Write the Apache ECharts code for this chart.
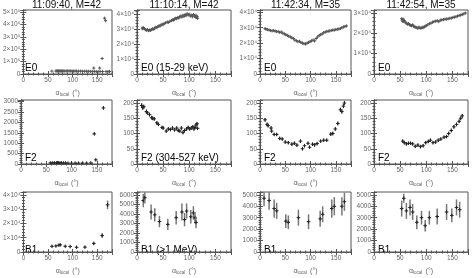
<!DOCTYPE html>
<html><head><meta charset="utf-8">
<script src="https://cdn.jsdelivr.net/npm/echarts@6/dist/echarts.min.js"></script>
<style>html,body{margin:0;padding:0;background:#fff}#c{width:474px;height:278px}</style>
</head><body><div id="c"></div>
<script>
// ---- text ----
const panelTitles = ['11:09:40, M=42', '11:10:14, M=42', '11:42:34, M=35', '11:42:54, M=35'];
const panelLabels = [
  ['E0', 'E0 (15-29 keV)', 'E0', 'E0'],
  ['F2', 'F2 (304-527 keV)', 'F2', 'F2'],
  ['B1', 'B1 (>1 MeV)', 'B1', 'B1']
];
const xName = '{a|α}{s|local} {a|(°)}';
// ---- axis scales ----
const xMin = 0, xMax = 180, xStep = 50;
const yMaxes = [[5.16e5, 4.25e4, 4.15e4, 3.15e4], [3080, 210, 210, 210], [4.2e4, 6300, 5250, 5250]];
const ySteps = [[1e5, 1e4, 1e4, 1e4], [500, 50, 50, 50], [1e4, 1000, 1000, 1000]];
const yExp = [[5, 4, 4, 4], [0, 0, 0, 0], [4, 0, 0, 0]];

// ---- data: E0 ----
const e0a1 = [58,66,68,70,71,73,75,77,79,81,84,87,90,93,96,99,102,105,108,112,116,120,124,128,132,136,140,143,144,148,152,155,156,160,161,165,167,168,172,175];
const e0v1 = [23000,24000,25000,24000,23000,25000,24000,24000,25000,24000,24000,24000,25000,24000,24000,24000,23000,24000,23000,23000,23000,22000,22000,22000,22000,21000,21000,48000,21000,20000,20000,48000,20000,125000,20000,450000,430000,20000,20000,20000];
const e0a2 = [10,11,12,14,16,18,20,22,24,26,28,30,32,34,36,38,40,42,44,46,48,50,52,55,58,60,63,66,68,70,72,74,76,78,80,82,84,86,88,90,92,94,96,98,100,102,104,106,108,110,112,113,114,115,116];
const e0v2 = [30500,30000,30800,30200,29500,29000,29500,28800,29200,29000,29500,30000,29700,30500,31000,30800,31500,32000,31800,32500,33000,32800,33500,34000,34500,34200,35000,35500,36000,35800,36500,37000,36800,37500,37200,38000,38500,37800,39000,38200,39500,38800,40000,39200,39700,38500,39000,38000,39500,38500,37800,39000,37500,38200,37000];
const e0a3 = [10,12,15,18,21,24,27,30,33,36,39,42,45,48,51,54,57,60,63,66,69,72,75,78,81,84,87,90,93,96,99,102,105,108,111,114,117,120,123,126,129,132,135,138,141,144,147,150,153,156,159,162,165,168,171];
const e0v3 = [29500,29000,28800,28500,28200,28000,28200,27800,27500,27500,27000,27200,26500,26000,25500,25000,24500,24000,23500,23000,22000,21500,21000,21200,20500,20000,19700,19500,20000,20500,21000,21500,22000,21500,23000,24000,25000,25500,26000,26800,27200,27500,27800,28000,28200,28500,28500,28800,29000,29200,29500,30000,30500,30800,31200];
const e0a4 = [53,54,55,56,57,58,60,62,64,66,68,70,72,74,76,78,80,82,84,86,88,90,92,94,96,98,100,103,106,109,112,115,118,121,124,127,130,133,136,139,142,145,148,151,154,157,160,163,166,169,172,175];
const e0v4 = [27200,26500,26000,27000,25800,26200,25500,25000,24500,24800,24200,24000,23800,24200,23500,23200,23000,22800,22500,23000,22700,22500,23000,22800,23200,23500,23800,24200,24800,25000,25500,25800,26000,26200,25800,26500,26600,26800,27000,27000,27200,27400,27500,27800,28000,28200,28500,28800,29000,29300,29600,30000];
// ---- data: F2 ----
const f2a1 = [58,62,66,70,72,74,77,80,84,88,93,100,107,114,122,130,138,145,148,163];
const f2v1 = [50,50,55,50,60,55,50,50,45,45,40,40,40,40,45,40,50,1450,200,2700];
const f2e1 = [15,15,15,15,15,15,15,15,15,15,15,15,15,15,15,15,15,60,30,80];
const f2a2 = [9,11,13,18,20,24,28,30,33,38,41,48,50,56,60,64,68,72,76,79,82,85,88,91,95,98,101,104,107,109,111,113,115,116];
const f2v2 = [192,185,188,172,168,162,152,150,148,135,130,120,118,108,115,113,118,112,118,110,108,118,103,110,115,120,115,118,122,115,120,128,132,117];
const f2e2 = [8,8,7,7,6,6,6,6,6,6,5,5,5,5,5,5,5,5,5,5,5,5,5,5,5,5,5,5,5,5,5,6,6,5];
const f2a3 = [10,14,16,22,23,28,33,39,44,50,56,63,68,73,80,84,88,95,98,104,108,113,120,126,132,140,144,149,154,159,162,165,167];
const f2v3 = [145,130,126,118,108,97,97,84,82,72,70,65,68,62,75,50,60,68,55,65,63,67,75,78,78,98,100,115,133,178,172,190,200];
const f2e3 = [6,6,6,6,5,5,5,5,5,5,5,5,5,5,5,5,5,5,5,5,5,5,5,5,5,6,6,6,6,7,7,7,7];
const f2a4 = [55,58,62,66,70,74,79,84,89,94,99,104,108,113,118,123,128,134,139,143,148,153,158,163,166,169];
const f2v4 = [75,70,66,68,68,66,58,62,57,60,70,74,78,70,72,78,82,88,90,100,110,122,130,140,150,158];
const f2e4 = [5,5,5,5,5,5,5,5,5,5,5,5,5,5,5,5,5,5,5,6,6,6,6,6,6,6];
// ---- data: B1 ----
const b1a1 = [58,66,72,75,85,95,108,125,143,160,171];
const b1v1 = [4000,4200,4800,5000,4000,3800,3300,3400,6000,11500,33000];
const b1e1 = [600,600,700,700,600,600,600,600,900,1600,3000];
const b1a2 = [12,15,27,34,43,59,75,86,91,95,103,108,111,113];
const b1v2 = [5400,5700,4200,3900,3200,2900,3600,4200,3400,4300,3700,4100,3600,3100];
const b1e2 = [700,600,800,700,600,600,700,900,700,800,700,700,600,600];
const b1a3 = [8,18,28,33,51,56,76,96,119,124,142,147,162,167];
const b1v3 = [4700,4500,3800,3600,2700,2600,3000,2650,2900,3300,3800,4000,4000,4400];
const b1e3 = [700,800,800,700,600,600,700,650,700,700,800,800,800,800];
const b1a4 = [53,57,62,69,74,82,91,98,106,121,139,149,158,164];
const b1v4 = [3800,4700,3600,3900,3500,2600,3000,2300,3000,3100,3500,3200,3900,3700];
const b1e4 = [700,400,700,700,700,600,600,500,600,700,700,600,700,700];

const panelData = [
  [[e0a1,e0v1,null],[e0a2,e0v2,null],[e0a3,e0v3,null],[e0a4,e0v4,null]],
  [[f2a1,f2v1,f2e1],[f2a2,f2v2,f2e2],[f2a3,f2v3,f2e3],[f2a4,f2v4,f2e4]],
  [[b1a1,b1v1,b1e1],[b1a2,b1v2,b1e2],[b1a3,b1v3,b1e3],[b1a4,b1v4,b1e4]]
];

// ---- layout ----
const colLeft = [21, 137, 260, 374];
const colWidth = [91, 94, 91, 94];
const rowTop = [10, 100, 192];
const rowHeight = 64;

const GRAY = '#666';
const BORDER = '#555';
const FONT = 'Liberation Sans, Arial, sans-serif';

const grids = [], xAxes = [], yAxes = [], series = [], graphics = [];

function makeRender(kind) {
  return function (params, api) {
    const x = api.value(0), y = api.value(1), e = api.value(2);
    const c = api.coord([x, y]);
    const ch = [];
    if (kind !== 'E0' && e > 0) {
      const t = api.coord([x, y + e]), b = api.coord([x, Math.max(0, y - e)]);
      ch.push({type: 'line', shape: {x1: c[0], y1: t[1], x2: c[0], y2: b[1]},
        style: {stroke: kind === 'B1' ? '#777' : '#444', lineWidth: kind === 'B1' ? 1.5 : 1}});
    }
    const s = kind === 'E0' ? 1.6 : 1.8;
    const col = kind === 'E0' ? '#555' : '#222';
    ch.push({type: 'line', shape: {x1: c[0] - s, y1: c[1], x2: c[0] + s, y2: c[1]}, style: {stroke: col, lineWidth: 1}});
    ch.push({type: 'line', shape: {x1: c[0], y1: c[1] - s, x2: c[0], y2: c[1] + s}, style: {stroke: col, lineWidth: 1}});
    return {type: 'group', children: ch};
  };
}

const kinds = ['E0', 'F2', 'B1'];
for (let r = 0; r < 3; r++) {
  for (let c = 0; c < 4; c++) {
    const k = r * 4 + c;
    grids.push({left: colLeft[c], top: rowTop[r], width: colWidth[c], height: rowHeight,
      show: true, borderColor: BORDER, borderWidth: 1, backgroundColor: 'transparent'});
    const tick = {show: true, inside: true, length: 3, lineStyle: {color: BORDER, width: 1}};
    const minor = {show: true, splitNumber: 5, length: 1.5, lineStyle: {color: BORDER, width: 1}};
    xAxes.push({type: 'value', gridIndex: k, position: 'bottom', min: xMin, max: xMax, interval: xStep,
      axisLine: {show: true, lineStyle: {color: BORDER}}, axisTick: tick, minorTick: minor, splitLine: {show: false},
      axisLabel: {fontSize: 6.5, color: GRAY, margin: 3, fontFamily: FONT, showMaxLabel: false},
      name: xName, nameLocation: 'middle', nameGap: 13,
      nameTextStyle: {color: GRAY, fontFamily: FONT,
        rich: {a: {fontSize: 7, color: GRAY, fontFamily: FONT}, s: {fontSize: 4.5, color: GRAY, fontFamily: FONT, padding: [4, 0, 0, 0]}}}
    });
    xAxes.push({type: 'value', gridIndex: k, position: 'top', min: xMin, max: xMax, interval: xStep,
      axisLine: {show: true, lineStyle: {color: BORDER}}, axisTick: tick, minorTick: minor, splitLine: {show: false},
      axisLabel: {show: false}});
    const ex = yExp[r][c];
    const sup = {4: '⁴', 5: '⁵'};
    yAxes.push({type: 'value', gridIndex: k, position: 'left', min: 0, max: yMaxes[r][c], interval: ySteps[r][c],
      axisLine: {show: true, lineStyle: {color: BORDER}}, axisTick: tick, minorTick: minor, splitLine: {show: false},
      axisLabel: {fontSize: 6.5, color: GRAY, margin: 3, fontFamily: FONT, showMaxLabel: false,
        formatter: function (v) {
          if (v === 0) return '0';
          if (ex) return Math.round(v / Math.pow(10, ex)) + '×10' + sup[ex];
          return String(v);
        }}
    });
    yAxes.push({type: 'value', gridIndex: k, position: 'right', min: 0, max: yMaxes[r][c], interval: ySteps[r][c],
      axisLine: {show: true, lineStyle: {color: BORDER}}, axisTick: tick, minorTick: minor, splitLine: {show: false},
      axisLabel: {show: false}});
    const d = panelData[r][c];
    const arr = d[0].map((a, i) => [a, d[1][i], d[2] ? d[2][i] : 0]);
    series.push({type: 'custom', xAxisIndex: 2 * k, yAxisIndex: 2 * k, data: arr, clip: true,
      renderItem: makeRender(kinds[r]), silent: true, animation: false});
    graphics.push({type: 'text', left: colLeft[c] + 4, top: rowTop[r] + rowHeight - 11,
      style: {text: panelLabels[r][c], fontSize: 10, fill: '#000', fontFamily: FONT}});
  }
}
for (let c = 0; c < 4; c++) {
  graphics.push({type: 'text', x: colLeft[c] + colWidth[c] / 2, y: 0,
    style: {text: panelTitles[c], fontSize: 10, fill: '#111', fontFamily: FONT, textAlign: 'center', textVerticalAlign: 'top'}});
}

const chart = echarts.init(document.getElementById('c'), null, {renderer: 'canvas'});
chart.setOption({animation: false, backgroundColor: '#fff', grid: grids, xAxis: xAxes, yAxis: yAxes, series: series, graphic: graphics});
</script></body></html>
